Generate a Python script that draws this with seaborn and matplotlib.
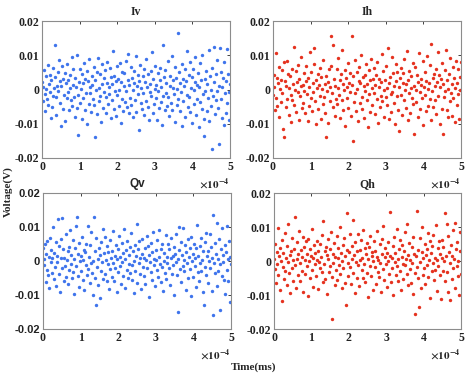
import numpy as np
import pandas as pd
import matplotlib
matplotlib.use("Agg")
import matplotlib.pyplot as plt
import seaborn as sns

# ---- data (voltages in mV, read/estimated from the picture) ----
iv_mv = [
    2.1, -3.4, 0.8, 5.6, -1.2, -6.3, 3.9, 0.2, -2.8, 7.1, -4.5, 1.6, -0.7, 4.3, -8.2, 2.9, -5.1, 6.4, -1.9, 0.5,
    3.7, 13.0, -2.3, -7.4, 1.1, 5.2, -0.4, 8.6, -3.8, 2.4, -10.8, 0.9, 6.8, -5.7, 3.2, -1.5, 4.9, -9.3, 1.8, -2.6,
    7.5, -0.8, 2.7, -6.1, 4.1, 0.3, -3.2, 9.4, -4.8, 1.4, 5.9, -2.1, -7.9, 3.5, 0.6, -5.4, 10.2, -1.7, -13.2, 2.2,
    -3.9, 6.1, 0.1, -8.7, 4.6, -2.4, 1.9, 7.8, -5.9, 3.1, -0.9, -10.1, 5.4, 2.6, -4.2, 8.9, -1.1, 0.7, -6.6, 3.8,
    1.3, -2.9, 6.7, -4.6, -14.0, 2.8, -0.2, 5.1, -7.2, 9.1, -3.5, 0.4, 4.4, -1.8, -9.6, 7.3, 1.7, -5.3, 3.3, -0.6,
    5.8, -2.2, -6.9, 2.0, 8.1, -4.1, 0.8, -1.4, 6.2, -8.4, 3.6, -3.1, 1.5, 11.1, -5.6, 4.0, -0.3, -7.6, 2.5, 6.9,
    -1.6, 3.0, -4.9, 0.0, 7.7, -9.8, 2.3, 5.0, -2.7, -6.2, 4.8, 1.0, -3.6, 8.4, -0.5, -5.0, 2.9, 10.4, -7.0, 1.2,
    -2.5, 6.5, -4.4, 3.4, -0.1, -8.0, 5.5, 1.9, -3.0, 9.7, -6.5, 0.9, 4.2, -1.3, -11.9, 2.6, 7.2, -4.0, 0.3, -5.8,
    3.9, -1.0, 6.0, -7.3, 2.1, -3.3, 8.8, 0.6, -5.2, 4.5, -9.0, 1.6, -0.8, 5.3, -2.0, 10.9, -6.8, 3.1, -4.3, 0.2,
    7.0, -2.6, 1.4, -8.9, 4.7, -0.4, -5.5, 2.8, 6.3, -3.7, 0.7, -10.3, 13.0, -1.9, 3.6, -6.0, 5.7, -0.9, 2.0, -4.7,
    8.3, -2.3, -7.7, 1.1, 4.0, -3.8, 9.9, -5.9, 0.5, 2.7, -1.2, 6.6, -9.4, 3.3, -4.6, 0.1, 16.5, -2.8, 5.2, -6.4,
    1.8, -0.7, 7.4, -10.6, 3.0, -3.4, 0.9, 5.9, -8.1, 2.4, 11.2, -1.5, -5.0, 4.1, -2.1, 8.0, -6.7, 0.4, 3.7, -9.9,
    6.1, -0.2, -4.2, 2.2, 9.5, -7.5, 1.3, -2.9, 4.9, -11.0, 0.6, 7.6, -3.6, 2.9, -5.7, 10.1, -1.4, -8.6, -13.5, 3.2,
    -0.5, 5.5, -6.3, 1.7, -2.4, 11.6, -9.2, 3.8, 0.0, -4.8, -17.5, 6.4, -1.8, 12.5, 2.3, -7.1, 4.6, -3.1, 8.7, -0.3,
    -5.4, 1.0, -16.0, 12.2, -2.7, 5.0, -8.3, 0.8, 3.5, -10.5, 7.9, -1.1, 2.6, -6.9, 11.8, -3.9, 4.4, -0.6, -8.8, 1.5,
]
ih_mv = [
    -1.5, 4.2, 0.7, -6.1, 10.8, -2.4, 3.3, -4.7, 1.9, 6.5, -8.0, 0.2, 2.8, -3.6, 5.7, -0.9, -11.5, 7.9, -14.0, 2.4,
    -5.2, 1.1, 8.3, -2.8, 4.6, -7.3, 0.5, 3.9, -1.7, -9.6, 6.1, -3.1, 1.6, 12.3, -4.4, 0.0, 5.3, -6.7, 2.1, -0.6,
    7.2, -8.8, 3.0, -2.0, 0.9, 9.4, -5.5, 1.4, -3.9, 4.8, -0.3, -7.0, 6.8, 2.6, -1.3, -9.1, 3.5, 0.6, -4.9, 10.9,
    -2.6, 5.0, -6.4, 1.8, -0.8, 7.5, 12.0, -3.3, 2.9, -10.2, 0.4, 4.5, -5.8, 1.2, -1.9, 6.3, -8.5, 3.7, 0.1, -4.1,
    8.7, -2.2, 1.5, -6.9, -14.0, 4.0, -0.5, 2.3, -9.9, 5.9, -3.5, 0.8, 7.0, 15.5, -1.1, -5.0, 13.0, 3.1, -7.6, 1.0,
    -2.9, 6.0, -4.3, 0.3, 9.2, -1.6, -8.2, 2.7, 4.4, -3.0, 11.5, -6.0, 1.7, -0.2, 5.6, -10.7, 3.4, -2.5, 0.7, 7.7,
    -5.3, 2.0, -0.7, 4.9, -7.8, 1.3, 15.5, -15.0, 3.8, -3.7, 8.5, -1.0, -6.2, 5.2, 0.2, -9.3, 2.5, 6.7, -4.0, 1.9,
    10.1, -2.1, -5.6, 3.6, 0.9, -8.4, 4.3, -0.4, 7.3, -3.2, 1.5, -11.0, 5.8, -1.4, 2.8, -6.6, 9.0, 0.5, -4.5, 3.2,
    -0.9, 6.4, -7.1, 1.2, 4.1, -2.7, 8.1, -9.7, 0.6, 3.0, -5.1, 2.2, -1.8, 10.4, -3.4, 5.5, -0.1, -7.9, 2.9, -2.3,
    6.9, 0.3, -4.6, 12.0, -8.6, 1.8, 3.6, -1.2, -6.5, 9.6, -0.6, 4.7, -3.8, 1.0, -10.1, 7.4, 2.4, -2.0, 5.1, -5.9,
    0.8, -12.1, 3.3, 6.2, -1.5, -7.4, 2.0, 4.8, -3.1, 8.9, -0.2, -5.4, 1.6, 11.3, -9.0, 2.7, -1.0, 5.4, -6.8, 0.4,
    3.9, -2.6, 7.8, -4.2, 1.1, -13.0, 6.6, 0.0, -3.6, 4.3, -8.1, 2.3, 10.6, -0.8, -5.7, 1.4, 3.2, -2.4, 8.4, -10.4,
    0.6, 5.0, -1.6, 2.5, -6.3, 9.8, 0.2, -4.8, 1.9, -2.8, 7.1, -8.9, 13.2, -0.4, 3.5, -5.2, 4.6, 1.0, -3.0, 6.0,
    -7.2, 2.1, 11.0, -1.9, 4.1, -10.0, 0.7, 3.0, -5.6, 7.6, -13.0, 1.5, -2.2, 5.7, -0.5, 11.4, -6.1, 2.8, -8.0, 0.1,
    4.5, -3.3, 9.3, -0.9, 1.7, -7.7, 6.5, -2.5, 3.4, -9.4, 0.5, 8.2, -4.4, 2.0, -1.3, 6.1, -8.7, 3.7, -0.2, 7.9,
]
qv_mv = [
    3.8, -1.3, 0.5, 4.9, -6.2, 2.0, -2.7, 5.8, -4.1, 1.2, -8.0, 6.7, -0.4, 3.1, -3.5, 0.8, 9.9, -5.4, 2.4, -1.8,
    5.5, -7.3, 1.6, -0.2, 12.5, -3.8, 4.3, -9.2, 0.9, 6.4, 12.7, -2.1, 3.5, -5.9, 1.0, -1.4, 7.8, -4.6, 0.3, 2.9,
    -6.8, 4.0, -2.5, 9.0, -0.9, 1.9, -5.0, 6.1, -3.2, 0.6, -9.7, 3.7, -1.6, 10.2, 12.8, -4.4, 2.2, -7.7, 5.3, -0.1,
    1.5, -3.0, 7.2, -5.7, 0.4, 3.3, -8.6, 2.6, -1.1, 5.0, -4.0, 10.4, -2.3, 1.3, -6.5, 4.6, -0.7, 8.4, -3.6, 0.1,
    -10.0, 13.0, 2.8, -4.9, -13.0, 6.9, -1.9, 0.7, -7.0, 3.9, -11.0, 1.7, -2.8, 5.6, -0.3, 9.5, -5.3, 2.3, -3.9, 7.0,
    0.2, -6.0, 4.4, -1.0, 2.7, -8.3, 6.3, -2.4, 0.9, -4.7, 3.0, -0.6, 8.8, -5.8, 1.4, -2.0, 4.8, -9.1, 0.5, 3.6,
    -3.1, 7.5, -1.5, 1.1, -6.7, 5.2, -0.2, 2.5, -4.3, 9.3, -7.8, 0.6, 3.2, -2.6, 6.0, -5.1, 1.8, -0.8, 4.1, -3.4,
    8.1, -1.2, -5.5, 2.9, 0.0, -9.5, 4.7, -2.9, 1.6, 10.8, -6.4, 3.4, -0.5, 5.9, -3.7, 0.8, -8.1, 2.1, 6.6, -1.7,
    -4.5, 1.0, 3.8, -6.9, 0.3, 7.3, -2.2, 4.5, -10.6, 1.9, -0.4, 5.4, -3.3, 2.6, -5.6, 8.6, -1.3, 0.7, -7.4, 3.1,
    0.4, -2.7, 6.2, -4.8, 1.3, 9.1, -0.9, -6.1, 3.5, -1.9, 4.9, -8.8, 0.1, 2.4, -3.6, 7.7, -5.2, 1.2, -0.6, 5.1,
    -2.0, 3.6, -7.2, 0.9, 6.8, -3.9, 1.5, -1.1, 4.2, -9.9, 2.0, -0.3, 8.0, -4.2, 0.6, -15.0, 3.3, 10.0, -2.4, 5.7,
    -6.3, 1.8, -1.4, 9.7, -3.0, 0.2, 4.6, -8.4, 2.7, -0.7, 6.5, -5.0, 1.1, 3.9, -2.3, -10.3, 7.1, -0.1, 2.2, -4.6,
    5.0, -1.6, 0.8, -7.5, 3.7, 10.5, -3.3, 1.4, -5.9, 4.3, -0.5, 6.9, -2.8, 0.3, -9.0, 2.9, -13.0, 5.6, -1.9, 8.3,
    -4.0, 1.6, 3.0, -6.6, 0.0, 7.9, -2.1, 4.0, -8.9, 1.0, -16.0, 13.5, -0.6, 5.3, -3.5, 2.1, -7.3, 11.1, 0.5, -2.9,
    6.4, -1.0, -14.5, 3.4, -4.4, 9.8, -0.2, 1.9, -5.7, 4.8, -9.6, 2.6, 10.2, -2.5, 0.7, -6.0, 5.8, -12.2, 1.3, -0.8,
]
qh_mv = [
    0.6, -2.3, 5.1, -6.4, 2.7, -0.8, 9.7, -4.0, 1.4, 3.8, -8.6, 0.1, -11.8, 6.2, -1.9, 2.4, -5.3, 8.1, -3.0, 1.0,
    -7.1, 4.5, -0.4, 10.9, -3.6, 1.8, -9.4, 2.9, 6.7, -2.0, 0.3, -5.8, 3.4, 13.0, -1.2, -7.9, 5.5, 0.7, -4.2, 2.2,
    8.8, -0.6, -6.0, 3.1, 1.2, -2.8, 7.0, -9.0, 4.0, 0.4, -3.9, 5.8, -1.5, 2.0, -10.2, 6.5, -0.1, 3.6, -5.0, 1.6,
    9.3, -2.5, 0.8, -7.5, 4.7, -1.0, 2.5, -4.5, 6.0, 0.2, -8.2, 3.0, -0.3, 5.0, -2.2, 1.3, -3.3, 7.6, -6.1, 11.7,
    -0.9, 2.8, -5.4, 4.2, 1.7, -9.8, 0.5, 6.4, -3.1, 3.5, -1.6, 8.4, -4.6, -17.0, 2.1, -0.7, 5.3, -7.0, 1.1, -2.6,
    7.3, -5.7, 0.9, 3.9, -1.3, 10.0, -3.8, 2.3, -8.0, 0.0, 4.8, -2.1, 6.9, -6.5, 1.5, -13.0, 3.2, 14.2, -0.5, -4.3,
    2.6, 8.0, -1.8, -6.8, 4.4, 0.6, 12.0, -3.4, 1.9, -9.3, 5.6, -0.2, 2.9, -4.9, 7.8, -1.1, -7.3, 3.3, 0.3, 6.1,
    -2.7, 1.0, -5.1, 9.0, -0.9, 3.7, -6.2, 2.0, 5.2, -3.5, 0.7, -10.5, 4.1, -1.4, 7.4, -4.4, 1.6, 2.7, -8.4, 0.1,
    5.9, -1.7, 3.0, -6.7, 1.3, 8.7, -3.2, 0.4, -4.8, 4.9, -0.6, -9.1, 6.6, 2.2, -2.4, 10.3, -5.5, 1.1, 3.8, -1.0,
    -7.6, 2.5, 0.0, 5.7, -3.7, 1.4, 14.3, -6.3, 0.8, -2.0, 4.3, -10.0, 7.2, -0.4, 2.3, -4.1, 9.5, -1.5, 0.6, -5.9,
    3.4, -2.9, 6.3, -8.5, 1.2, 4.6, -0.8, -5.2, 2.8, 8.6, -1.3, 0.5, -3.9, 11.0, -7.2, 1.7, 5.4, -2.3, 0.2, -6.6,
    4.0, -0.5, -9.7, 7.1, 2.0, -3.6, -15.5, 1.5, -1.9, 14.8, -5.0, 3.1, -13.5, 6.8, -0.3, -8.0, 2.6, 9.9, -4.0, 0.9,
    -2.2, 5.0, -6.9, 1.8, 3.5, -1.2, 8.2, -4.7, 0.4, -10.8, 6.0, 2.4, -3.0, 4.5, -0.7, 7.7, -5.6, 1.0, -2.5, 10.6,
    -8.7, 0.3, 3.9, -1.6, 5.9, -4.2, 2.1, -11.3, 0.8, 6.3, -2.8, 4.0, -0.1, 14.0, -6.0, 1.4, 11.0, -3.3, 7.5, -9.2,
    2.7, -0.6, -11.5, 4.7, -5.3, 1.6, 9.1, -2.1, 0.6, 11.2, -7.8, 3.6, -1.4, 5.6, -4.5, 0.0, -10.1, 8.5, 2.9, -3.7,
]

panel_titles = ["Iv", "Ih", "Qv", "Qh"]
x_ticks = [0, 1, 2, 3, 4, 5]          # in units of 1e-4 ms
y_ticks = [-0.02, -0.01, 0, 0.01, 0.02]
y_tick_labels = ["-0.02", "-0.01", "0", "0.01", "0.02"]
t_end = 5e-4  # ms

blue = "#3f74ec"
red = "#e5321f"

sns.set_style("white")
plt.rcParams["font.family"] = ["Liberation Serif", "DejaVu Serif"]
plt.rcParams["mathtext.fontset"] = "stix"

fig = plt.figure(figsize=(4.74, 3.83), dpi=100)
W, H = 474, 383
boxes = [(42, 21, 230, 158), (273, 21, 461, 158), (43, 193, 231, 329), (274, 193, 461, 329)]
series = [iv_mv, ih_mv, qv_mv, qh_mv]
colors = [blue, red, blue, red]

serif = ["Liberation Serif", "DejaVu Serif"]
sansf = ["Liberation Sans", "DejaVu Sans"]

for i, (b, vals, col, ttl) in enumerate(zip(boxes, series, colors, panel_titles)):
    l, t, r, bt = b
    ax = fig.add_axes([l / W, 1 - bt / H, (r - l) / W, (bt - t) / H])
    n = len(vals)
    df = pd.DataFrame({"t": np.linspace(0, t_end, n) * 1e4,
                       "v": np.array(vals) / 1000.0})
    sns.scatterplot(data=df, x="t", y="v", ax=ax, color=col, s=6,
                    linewidth=0, legend=False)
    ax.set_xlim(0, 5)
    ax.set_ylim(-0.02, 0.02)
    ax.set_xticks(x_ticks)
    ax.set_yticks(y_ticks)
    fam = sansf if i == 2 else serif
    ax.set_xticklabels([str(v) for v in x_ticks], fontsize=8.5, fontweight="bold",
                       family=serif)
    ax.set_yticklabels(y_tick_labels, fontsize=8.5 if i != 2 else 8,
                       fontweight="bold", family=fam)
    ax.set_xlabel("")
    ax.set_ylabel("")
    ax.tick_params(direction="in", length=2, width=0.6, pad=2,
                   top=True, right=True, colors="#222222")
    for sp in ax.spines.values():
        sp.set_color("#8c8c8c")
        sp.set_linewidth(0.8)
    ax.set_title(ttl, fontsize=8.5, fontweight="bold", pad=4,
                 family=(sansf if i == 2 else serif))
    ax.text(1.0, -0.19, r"$\mathbf{\times 10^{-4}}$", transform=ax.transAxes,
            ha="right", va="center", fontsize=8)

fig.text(0.016, 0.50, "Voltage(V)", rotation=90, ha="center", va="center",
         fontsize=8, fontweight="bold")
fig.text(0.535, 0.042, "Time(ms)", ha="center", va="center",
         fontsize=8, fontweight="bold")

fig.savefig("out.png", dpi=100, facecolor="white")
